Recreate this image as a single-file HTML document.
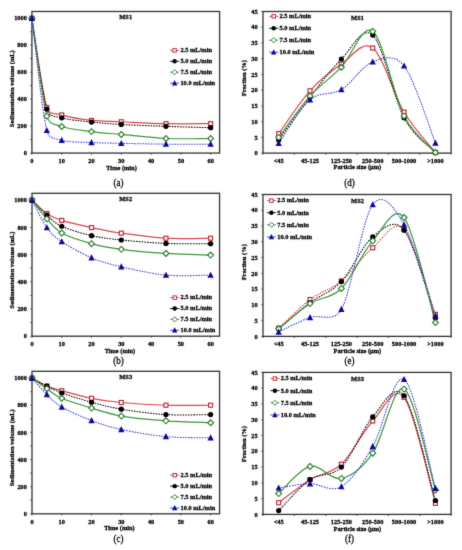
<!DOCTYPE html>
<html><head><meta charset="utf-8"><style>
html,body{margin:0;padding:0;background:#fff;}
body{width:462px;height:550px;overflow:hidden;font-family:"Liberation Serif",serif;}
svg{display:block;}
text{stroke:#000;stroke-width:0.25px;}
</style></head><body>
<svg width="462" height="550" viewBox="0 0 462 550"><defs><filter id="bl" x="0" y="0" width="100%" height="100%" color-interpolation-filters="sRGB"><feConvolveMatrix order="3" kernelMatrix="0.01134 0.08382 0.01134 0.08382 0.61935 0.08382 0.01134 0.08382 0.01134" edgeMode="duplicate"/></filter></defs><g filter="url(#bl)"><rect width="462" height="550" fill="#fff"/><line x1="30.30" y1="153.05" x2="31.90" y2="153.05" stroke="#3a3a3a" stroke-width="0.9"/>
<text transform="translate(26.90 155.25) scale(1 1.070)" font-family="Liberation Serif" font-weight="bold" font-size="6.40" text-anchor="end">0</text>
<line x1="30.30" y1="139.57" x2="31.90" y2="139.57" stroke="#3a3a3a" stroke-width="0.9"/>
<line x1="30.30" y1="126.09" x2="31.90" y2="126.09" stroke="#3a3a3a" stroke-width="0.9"/>
<text transform="translate(26.90 128.29) scale(1 1.070)" font-family="Liberation Serif" font-weight="bold" font-size="6.40" text-anchor="end">200</text>
<line x1="30.30" y1="112.61" x2="31.90" y2="112.61" stroke="#3a3a3a" stroke-width="0.9"/>
<line x1="30.30" y1="99.13" x2="31.90" y2="99.13" stroke="#3a3a3a" stroke-width="0.9"/>
<text transform="translate(26.90 101.33) scale(1 1.070)" font-family="Liberation Serif" font-weight="bold" font-size="6.40" text-anchor="end">400</text>
<line x1="30.30" y1="85.65" x2="31.90" y2="85.65" stroke="#3a3a3a" stroke-width="0.9"/>
<line x1="30.30" y1="72.16" x2="31.90" y2="72.16" stroke="#3a3a3a" stroke-width="0.9"/>
<text transform="translate(26.90 74.36) scale(1 1.070)" font-family="Liberation Serif" font-weight="bold" font-size="6.40" text-anchor="end">600</text>
<line x1="30.30" y1="58.68" x2="31.90" y2="58.68" stroke="#3a3a3a" stroke-width="0.9"/>
<line x1="30.30" y1="45.20" x2="31.90" y2="45.20" stroke="#3a3a3a" stroke-width="0.9"/>
<text transform="translate(26.90 47.40) scale(1 1.070)" font-family="Liberation Serif" font-weight="bold" font-size="6.40" text-anchor="end">800</text>
<line x1="30.30" y1="31.72" x2="31.90" y2="31.72" stroke="#3a3a3a" stroke-width="0.9"/>
<line x1="30.30" y1="18.24" x2="31.90" y2="18.24" stroke="#3a3a3a" stroke-width="0.9"/>
<text transform="translate(26.90 20.44) scale(1 1.070)" font-family="Liberation Serif" font-weight="bold" font-size="6.40" text-anchor="end">1000</text>
<line x1="31.90" y1="153.05" x2="31.90" y2="154.65" stroke="#3a3a3a" stroke-width="0.9"/>
<text transform="translate(31.90 163.05) scale(1 1.070)" font-family="Liberation Serif" font-weight="bold" font-size="6.40" text-anchor="middle">0</text>
<line x1="61.69" y1="153.05" x2="61.69" y2="154.65" stroke="#3a3a3a" stroke-width="0.9"/>
<text transform="translate(61.69 163.05) scale(1 1.070)" font-family="Liberation Serif" font-weight="bold" font-size="6.40" text-anchor="middle">10</text>
<line x1="91.49" y1="153.05" x2="91.49" y2="154.65" stroke="#3a3a3a" stroke-width="0.9"/>
<text transform="translate(91.49 163.05) scale(1 1.070)" font-family="Liberation Serif" font-weight="bold" font-size="6.40" text-anchor="middle">20</text>
<line x1="121.28" y1="153.05" x2="121.28" y2="154.65" stroke="#3a3a3a" stroke-width="0.9"/>
<text transform="translate(121.28 163.05) scale(1 1.070)" font-family="Liberation Serif" font-weight="bold" font-size="6.40" text-anchor="middle">30</text>
<line x1="151.07" y1="153.05" x2="151.07" y2="154.65" stroke="#3a3a3a" stroke-width="0.9"/>
<text transform="translate(151.07 163.05) scale(1 1.070)" font-family="Liberation Serif" font-weight="bold" font-size="6.40" text-anchor="middle">40</text>
<line x1="180.87" y1="153.05" x2="180.87" y2="154.65" stroke="#3a3a3a" stroke-width="0.9"/>
<text transform="translate(180.87 163.05) scale(1 1.070)" font-family="Liberation Serif" font-weight="bold" font-size="6.40" text-anchor="middle">50</text>
<line x1="210.66" y1="153.05" x2="210.66" y2="154.65" stroke="#3a3a3a" stroke-width="0.9"/>
<text transform="translate(210.66 163.05) scale(1 1.070)" font-family="Liberation Serif" font-weight="bold" font-size="6.40" text-anchor="middle">60</text>
<rect x="31.90" y="11.50" width="187.70" height="141.55" fill="none" stroke="#333" stroke-width="1.3"/>
<text transform="translate(121.50 169.60) scale(1 1.070)" font-family="Liberation Serif" font-weight="bold" font-size="6.40" text-anchor="middle">Time (min)</text>
<text x="13.80" y="88.70" font-family="Liberation Serif" font-weight="bold" font-size="6.45" text-anchor="middle" transform="rotate(-90 13.80 88.70)">Sedimentation volume (mL)</text>
<text transform="translate(125.70 19.10) scale(1 1.070)" font-family="Liberation Serif" font-weight="bold" font-size="6.40" text-anchor="middle">MS1</text>
<path d="M31.90 18.24 C34.38 33.11 41.83 91.37 46.80 107.48 C49.25 115.44 54.25 112.74 61.69 114.90 C69.14 117.06 81.56 119.28 91.49 120.43 C101.42 121.57 108.87 121.23 121.28 121.77 C133.69 122.31 151.07 123.35 165.97 123.66 C180.87 123.98 203.21 123.66 210.66 123.66" fill="none" stroke="#dc4650" stroke-width="1.2"/>
<path d="M31.90 18.24 C34.38 33.38 41.83 92.50 46.80 109.10 C49.27 117.38 54.25 115.71 61.69 117.86 C69.14 120.02 81.56 120.94 91.49 122.04 C101.42 123.14 108.87 123.75 121.28 124.47 C133.69 125.19 151.07 125.82 165.97 126.36 C180.87 126.90 203.21 127.48 210.66 127.71" fill="none" stroke="#000" stroke-width="1.05" stroke-dasharray="1.6 1.1"/>
<path d="M31.90 18.24 C34.38 34.55 41.83 98.07 46.80 116.11 C49.21 124.87 54.25 123.91 61.69 126.49 C69.14 129.08 81.56 130.29 91.49 131.62 C101.42 132.94 108.87 133.30 121.28 134.45 C133.69 135.59 151.07 137.82 165.97 138.49 C180.87 139.16 203.21 138.49 210.66 138.49" fill="none" stroke="#3a983a" stroke-width="1.2"/>
<path d="M31.90 18.24 C34.38 36.93 41.83 110.07 46.80 130.40 C48.91 139.07 54.25 138.22 61.69 140.24 C69.14 142.27 81.56 142.02 91.49 142.53 C101.42 143.05 108.87 143.07 121.28 143.34 C133.69 143.61 151.07 144.02 165.97 144.15 C180.87 144.29 203.21 144.15 210.66 144.15" fill="none" stroke="#3c3cd8" stroke-width="1.05" stroke-dasharray="1.6 1.1"/>
<rect x="29.90" y="16.24" width="4.00" height="4.00" fill="#fff" stroke="#b82838" stroke-width="1.15"/>
<rect x="44.80" y="105.48" width="4.00" height="4.00" fill="#fff" stroke="#b82838" stroke-width="1.15"/>
<rect x="59.69" y="112.90" width="4.00" height="4.00" fill="#fff" stroke="#b82838" stroke-width="1.15"/>
<rect x="89.49" y="118.43" width="4.00" height="4.00" fill="#fff" stroke="#b82838" stroke-width="1.15"/>
<rect x="119.28" y="119.77" width="4.00" height="4.00" fill="#fff" stroke="#b82838" stroke-width="1.15"/>
<rect x="163.97" y="121.66" width="4.00" height="4.00" fill="#fff" stroke="#b82838" stroke-width="1.15"/>
<rect x="208.66" y="121.66" width="4.00" height="4.00" fill="#fff" stroke="#b82838" stroke-width="1.15"/>
<circle cx="31.90" cy="18.24" r="2.60" fill="#000"/>
<circle cx="46.80" cy="109.10" r="2.60" fill="#000"/>
<circle cx="61.69" cy="117.86" r="2.60" fill="#000"/>
<circle cx="91.49" cy="122.04" r="2.60" fill="#000"/>
<circle cx="121.28" cy="124.47" r="2.60" fill="#000"/>
<circle cx="165.97" cy="126.36" r="2.60" fill="#000"/>
<circle cx="210.66" cy="127.71" r="2.60" fill="#000"/>
<path d="M31.90 15.29L34.85 18.24L31.90 21.19L28.95 18.24Z" fill="#fff" stroke="#277a27" stroke-width="1.10"/>
<path d="M46.80 113.16L49.75 116.11L46.80 119.06L43.85 116.11Z" fill="#fff" stroke="#277a27" stroke-width="1.10"/>
<path d="M61.69 123.54L64.64 126.49L61.69 129.44L58.74 126.49Z" fill="#fff" stroke="#277a27" stroke-width="1.10"/>
<path d="M91.49 128.67L94.44 131.62L91.49 134.57L88.54 131.62Z" fill="#fff" stroke="#277a27" stroke-width="1.10"/>
<path d="M121.28 131.50L124.23 134.45L121.28 137.40L118.33 134.45Z" fill="#fff" stroke="#277a27" stroke-width="1.10"/>
<path d="M165.97 135.54L168.92 138.49L165.97 141.44L163.02 138.49Z" fill="#fff" stroke="#277a27" stroke-width="1.10"/>
<path d="M210.66 135.54L213.61 138.49L210.66 141.44L207.71 138.49Z" fill="#fff" stroke="#277a27" stroke-width="1.10"/>
<path d="M31.90 14.78L35.05 20.92L28.75 20.92Z" fill="#0c0898"/>
<path d="M46.80 126.94L49.95 133.08L43.65 133.08Z" fill="#0c0898"/>
<path d="M61.69 136.78L64.84 142.92L58.54 142.92Z" fill="#0c0898"/>
<path d="M91.49 139.07L94.64 145.21L88.34 145.21Z" fill="#0c0898"/>
<path d="M121.28 139.88L124.43 146.02L118.13 146.02Z" fill="#0c0898"/>
<path d="M165.97 140.69L169.12 146.83L162.82 146.83Z" fill="#0c0898"/>
<path d="M210.66 140.69L213.81 146.83L207.51 146.83Z" fill="#0c0898"/>
<line x1="170.00" y1="50.40" x2="179.20" y2="50.40" stroke="#dc4650" stroke-width="0.9"/>
<rect x="172.88" y="48.68" width="3.44" height="3.44" fill="#fff" stroke="#b82838" stroke-width="0.98"/>
<text transform="translate(180.40 52.20) scale(1 1.070)" font-family="Liberation Serif" font-weight="bold" font-size="6.40" text-anchor="start">2.5 mL/min</text>
<line x1="170.00" y1="61.30" x2="179.20" y2="61.30" stroke="#000" stroke-width="0.9"/>
<circle cx="174.60" cy="61.30" r="2.24" fill="#000"/>
<text transform="translate(180.40 63.10) scale(1 1.070)" font-family="Liberation Serif" font-weight="bold" font-size="6.40" text-anchor="start">5.0 mL/min</text>
<line x1="170.00" y1="72.20" x2="179.20" y2="72.20" stroke="#3a983a" stroke-width="0.9"/>
<path d="M174.60 69.66L177.14 72.20L174.60 74.74L172.06 72.20Z" fill="#fff" stroke="#277a27" stroke-width="0.94"/>
<text transform="translate(180.40 74.00) scale(1 1.070)" font-family="Liberation Serif" font-weight="bold" font-size="6.40" text-anchor="start">7.5 mL/min</text>
<line x1="170.00" y1="83.10" x2="179.20" y2="83.10" stroke="#3c3cd8" stroke-width="0.9"/>
<path d="M174.60 80.12L177.31 85.40L171.89 85.40Z" fill="#0c0898"/>
<text transform="translate(180.40 84.90) scale(1 1.070)" font-family="Liberation Serif" font-weight="bold" font-size="6.40" text-anchor="start">10.0 mL/min</text>
<text transform="translate(118.40 185.70) scale(1 1.070)" font-family="Liberation Serif" font-weight="normal" font-size="9.00" text-anchor="middle">(a)</text>
<line x1="30.40" y1="336.20" x2="32.00" y2="336.20" stroke="#3a3a3a" stroke-width="0.9"/>
<text transform="translate(27.00 338.40) scale(1 1.070)" font-family="Liberation Serif" font-weight="bold" font-size="6.40" text-anchor="end">0</text>
<line x1="30.40" y1="322.59" x2="32.00" y2="322.59" stroke="#3a3a3a" stroke-width="0.9"/>
<line x1="30.40" y1="308.98" x2="32.00" y2="308.98" stroke="#3a3a3a" stroke-width="0.9"/>
<text transform="translate(27.00 311.18) scale(1 1.070)" font-family="Liberation Serif" font-weight="bold" font-size="6.40" text-anchor="end">200</text>
<line x1="30.40" y1="295.37" x2="32.00" y2="295.37" stroke="#3a3a3a" stroke-width="0.9"/>
<line x1="30.40" y1="281.76" x2="32.00" y2="281.76" stroke="#3a3a3a" stroke-width="0.9"/>
<text transform="translate(27.00 283.96) scale(1 1.070)" font-family="Liberation Serif" font-weight="bold" font-size="6.40" text-anchor="end">400</text>
<line x1="30.40" y1="268.15" x2="32.00" y2="268.15" stroke="#3a3a3a" stroke-width="0.9"/>
<line x1="30.40" y1="254.54" x2="32.00" y2="254.54" stroke="#3a3a3a" stroke-width="0.9"/>
<text transform="translate(27.00 256.74) scale(1 1.070)" font-family="Liberation Serif" font-weight="bold" font-size="6.40" text-anchor="end">600</text>
<line x1="30.40" y1="240.93" x2="32.00" y2="240.93" stroke="#3a3a3a" stroke-width="0.9"/>
<line x1="30.40" y1="227.32" x2="32.00" y2="227.32" stroke="#3a3a3a" stroke-width="0.9"/>
<text transform="translate(27.00 229.52) scale(1 1.070)" font-family="Liberation Serif" font-weight="bold" font-size="6.40" text-anchor="end">800</text>
<line x1="30.40" y1="213.71" x2="32.00" y2="213.71" stroke="#3a3a3a" stroke-width="0.9"/>
<line x1="30.40" y1="200.10" x2="32.00" y2="200.10" stroke="#3a3a3a" stroke-width="0.9"/>
<text transform="translate(27.00 202.30) scale(1 1.070)" font-family="Liberation Serif" font-weight="bold" font-size="6.40" text-anchor="end">1000</text>
<line x1="32.00" y1="336.20" x2="32.00" y2="337.80" stroke="#3a3a3a" stroke-width="0.9"/>
<text transform="translate(32.00 346.20) scale(1 1.070)" font-family="Liberation Serif" font-weight="bold" font-size="6.40" text-anchor="middle">0</text>
<line x1="61.77" y1="336.20" x2="61.77" y2="337.80" stroke="#3a3a3a" stroke-width="0.9"/>
<text transform="translate(61.77 346.20) scale(1 1.070)" font-family="Liberation Serif" font-weight="bold" font-size="6.40" text-anchor="middle">10</text>
<line x1="91.54" y1="336.20" x2="91.54" y2="337.80" stroke="#3a3a3a" stroke-width="0.9"/>
<text transform="translate(91.54 346.20) scale(1 1.070)" font-family="Liberation Serif" font-weight="bold" font-size="6.40" text-anchor="middle">20</text>
<line x1="121.31" y1="336.20" x2="121.31" y2="337.80" stroke="#3a3a3a" stroke-width="0.9"/>
<text transform="translate(121.31 346.20) scale(1 1.070)" font-family="Liberation Serif" font-weight="bold" font-size="6.40" text-anchor="middle">30</text>
<line x1="151.08" y1="336.20" x2="151.08" y2="337.80" stroke="#3a3a3a" stroke-width="0.9"/>
<text transform="translate(151.08 346.20) scale(1 1.070)" font-family="Liberation Serif" font-weight="bold" font-size="6.40" text-anchor="middle">40</text>
<line x1="180.85" y1="336.20" x2="180.85" y2="337.80" stroke="#3a3a3a" stroke-width="0.9"/>
<text transform="translate(180.85 346.20) scale(1 1.070)" font-family="Liberation Serif" font-weight="bold" font-size="6.40" text-anchor="middle">50</text>
<line x1="210.62" y1="336.20" x2="210.62" y2="337.80" stroke="#3a3a3a" stroke-width="0.9"/>
<text transform="translate(210.62 346.20) scale(1 1.070)" font-family="Liberation Serif" font-weight="bold" font-size="6.40" text-anchor="middle">60</text>
<rect x="32.00" y="193.30" width="187.55" height="142.90" fill="none" stroke="#333" stroke-width="1.3"/>
<text transform="translate(119.90 352.60) scale(1 1.070)" font-family="Liberation Serif" font-weight="bold" font-size="6.40" text-anchor="middle">Time (min)</text>
<text x="13.80" y="270.00" font-family="Liberation Serif" font-weight="bold" font-size="6.45" text-anchor="middle" transform="rotate(-90 13.80 270.00)">Sedimentation volume (mL)</text>
<text transform="translate(125.70 201.20) scale(1 1.070)" font-family="Liberation Serif" font-weight="bold" font-size="6.40" text-anchor="middle">MS2</text>
<path d="M32.00 200.10 C34.48 202.35 41.92 210.20 46.88 213.58 C51.85 216.96 54.33 218.05 61.77 220.38 C69.21 222.72 81.62 225.46 91.54 227.60 C101.46 229.73 108.91 231.41 121.31 233.18 C133.71 234.95 151.08 237.37 165.96 238.21 C180.85 239.05 203.18 238.21 210.62 238.21" fill="none" stroke="#dc4650" stroke-width="1.2"/>
<path d="M32.00 200.10 C34.48 202.60 41.92 210.72 46.88 215.08 C51.85 219.43 54.33 222.81 61.77 226.24 C69.21 229.66 81.62 233.33 91.54 235.63 C101.46 237.92 108.91 238.69 121.31 239.98 C133.71 241.27 151.08 242.77 165.96 243.38 C180.85 244.00 203.18 243.61 210.62 243.66" fill="none" stroke="#000" stroke-width="1.05" stroke-dasharray="1.6 1.1"/>
<path d="M32.00 200.10 C34.48 203.23 41.92 213.40 46.88 218.89 C51.85 224.38 54.33 228.91 61.77 233.04 C69.21 237.17 81.62 240.93 91.54 243.66 C101.46 246.38 108.91 247.74 121.31 249.37 C133.71 251.00 151.08 252.50 165.96 253.45 C180.85 254.41 203.18 254.82 210.62 255.09" fill="none" stroke="#3a983a" stroke-width="1.2"/>
<path d="M32.00 200.10 C34.48 204.69 41.92 220.68 46.88 227.60 C51.85 234.51 54.33 236.58 61.77 241.61 C69.21 246.65 81.62 253.61 91.54 257.81 C101.46 262.01 108.91 263.91 121.31 266.79 C133.71 269.67 151.08 273.71 165.96 275.09 C180.85 276.48 203.18 275.09 210.62 275.09" fill="none" stroke="#3c3cd8" stroke-width="1.05" stroke-dasharray="1.6 1.1"/>
<rect x="30.00" y="198.10" width="4.00" height="4.00" fill="#fff" stroke="#b82838" stroke-width="1.15"/>
<rect x="44.88" y="211.58" width="4.00" height="4.00" fill="#fff" stroke="#b82838" stroke-width="1.15"/>
<rect x="59.77" y="218.38" width="4.00" height="4.00" fill="#fff" stroke="#b82838" stroke-width="1.15"/>
<rect x="89.54" y="225.60" width="4.00" height="4.00" fill="#fff" stroke="#b82838" stroke-width="1.15"/>
<rect x="119.31" y="231.18" width="4.00" height="4.00" fill="#fff" stroke="#b82838" stroke-width="1.15"/>
<rect x="163.96" y="236.21" width="4.00" height="4.00" fill="#fff" stroke="#b82838" stroke-width="1.15"/>
<rect x="208.62" y="236.21" width="4.00" height="4.00" fill="#fff" stroke="#b82838" stroke-width="1.15"/>
<circle cx="32.00" cy="200.10" r="2.60" fill="#000"/>
<circle cx="46.88" cy="215.08" r="2.60" fill="#000"/>
<circle cx="61.77" cy="226.24" r="2.60" fill="#000"/>
<circle cx="91.54" cy="235.63" r="2.60" fill="#000"/>
<circle cx="121.31" cy="239.98" r="2.60" fill="#000"/>
<circle cx="165.96" cy="243.38" r="2.60" fill="#000"/>
<circle cx="210.62" cy="243.66" r="2.60" fill="#000"/>
<path d="M32.00 197.15L34.95 200.10L32.00 203.05L29.05 200.10Z" fill="#fff" stroke="#277a27" stroke-width="1.10"/>
<path d="M46.88 215.94L49.83 218.89L46.88 221.84L43.93 218.89Z" fill="#fff" stroke="#277a27" stroke-width="1.10"/>
<path d="M61.77 230.09L64.72 233.04L61.77 235.99L58.82 233.04Z" fill="#fff" stroke="#277a27" stroke-width="1.10"/>
<path d="M91.54 240.71L94.49 243.66L91.54 246.61L88.59 243.66Z" fill="#fff" stroke="#277a27" stroke-width="1.10"/>
<path d="M121.31 246.42L124.26 249.37L121.31 252.32L118.36 249.37Z" fill="#fff" stroke="#277a27" stroke-width="1.10"/>
<path d="M165.96 250.50L168.91 253.45L165.96 256.40L163.01 253.45Z" fill="#fff" stroke="#277a27" stroke-width="1.10"/>
<path d="M210.62 252.14L213.57 255.09L210.62 258.04L207.67 255.09Z" fill="#fff" stroke="#277a27" stroke-width="1.10"/>
<path d="M32.00 196.64L35.15 202.78L28.85 202.78Z" fill="#0c0898"/>
<path d="M46.88 224.13L50.03 230.27L43.73 230.27Z" fill="#0c0898"/>
<path d="M61.77 238.15L64.92 244.29L58.62 244.29Z" fill="#0c0898"/>
<path d="M91.54 254.34L94.69 260.49L88.39 260.49Z" fill="#0c0898"/>
<path d="M121.31 263.33L124.46 269.47L118.16 269.47Z" fill="#0c0898"/>
<path d="M165.96 271.63L169.11 277.77L162.81 277.77Z" fill="#0c0898"/>
<path d="M210.62 271.63L213.77 277.77L207.47 277.77Z" fill="#0c0898"/>
<line x1="170.10" y1="297.60" x2="179.30" y2="297.60" stroke="#dc4650" stroke-width="0.9"/>
<rect x="172.98" y="295.88" width="3.44" height="3.44" fill="#fff" stroke="#b82838" stroke-width="0.98"/>
<text transform="translate(180.50 299.40) scale(1 1.070)" font-family="Liberation Serif" font-weight="bold" font-size="6.40" text-anchor="start">2.5 mL/min</text>
<line x1="170.10" y1="308.47" x2="179.30" y2="308.47" stroke="#000" stroke-width="0.9"/>
<circle cx="174.70" cy="308.47" r="2.24" fill="#000"/>
<text transform="translate(180.50 310.27) scale(1 1.070)" font-family="Liberation Serif" font-weight="bold" font-size="6.40" text-anchor="start">5.0 mL/min</text>
<line x1="170.10" y1="319.34" x2="179.30" y2="319.34" stroke="#3a983a" stroke-width="0.9"/>
<path d="M174.70 316.80L177.24 319.34L174.70 321.88L172.16 319.34Z" fill="#fff" stroke="#277a27" stroke-width="0.94"/>
<text transform="translate(180.50 321.14) scale(1 1.070)" font-family="Liberation Serif" font-weight="bold" font-size="6.40" text-anchor="start">7.5 mL/min</text>
<line x1="170.10" y1="330.21" x2="179.30" y2="330.21" stroke="#3c3cd8" stroke-width="0.9"/>
<path d="M174.70 327.23L177.41 332.51L171.99 332.51Z" fill="#0c0898"/>
<text transform="translate(180.50 332.01) scale(1 1.070)" font-family="Liberation Serif" font-weight="bold" font-size="6.40" text-anchor="start">10.0 mL/min</text>
<text transform="translate(118.40 363.70) scale(1 1.070)" font-family="Liberation Serif" font-weight="normal" font-size="9.00" text-anchor="middle">(b)</text>
<line x1="30.40" y1="513.80" x2="32.00" y2="513.80" stroke="#3a3a3a" stroke-width="0.9"/>
<text transform="translate(27.00 516.00) scale(1 1.070)" font-family="Liberation Serif" font-weight="bold" font-size="6.40" text-anchor="end">0</text>
<line x1="30.40" y1="500.23" x2="32.00" y2="500.23" stroke="#3a3a3a" stroke-width="0.9"/>
<line x1="30.40" y1="486.66" x2="32.00" y2="486.66" stroke="#3a3a3a" stroke-width="0.9"/>
<text transform="translate(27.00 488.86) scale(1 1.070)" font-family="Liberation Serif" font-weight="bold" font-size="6.40" text-anchor="end">200</text>
<line x1="30.40" y1="473.09" x2="32.00" y2="473.09" stroke="#3a3a3a" stroke-width="0.9"/>
<line x1="30.40" y1="459.51" x2="32.00" y2="459.51" stroke="#3a3a3a" stroke-width="0.9"/>
<text transform="translate(27.00 461.71) scale(1 1.070)" font-family="Liberation Serif" font-weight="bold" font-size="6.40" text-anchor="end">400</text>
<line x1="30.40" y1="445.94" x2="32.00" y2="445.94" stroke="#3a3a3a" stroke-width="0.9"/>
<line x1="30.40" y1="432.37" x2="32.00" y2="432.37" stroke="#3a3a3a" stroke-width="0.9"/>
<text transform="translate(27.00 434.57) scale(1 1.070)" font-family="Liberation Serif" font-weight="bold" font-size="6.40" text-anchor="end">600</text>
<line x1="30.40" y1="418.80" x2="32.00" y2="418.80" stroke="#3a3a3a" stroke-width="0.9"/>
<line x1="30.40" y1="405.23" x2="32.00" y2="405.23" stroke="#3a3a3a" stroke-width="0.9"/>
<text transform="translate(27.00 407.43) scale(1 1.070)" font-family="Liberation Serif" font-weight="bold" font-size="6.40" text-anchor="end">800</text>
<line x1="30.40" y1="391.66" x2="32.00" y2="391.66" stroke="#3a3a3a" stroke-width="0.9"/>
<line x1="30.40" y1="378.09" x2="32.00" y2="378.09" stroke="#3a3a3a" stroke-width="0.9"/>
<text transform="translate(27.00 380.29) scale(1 1.070)" font-family="Liberation Serif" font-weight="bold" font-size="6.40" text-anchor="end">1000</text>
<line x1="32.00" y1="513.80" x2="32.00" y2="515.40" stroke="#3a3a3a" stroke-width="0.9"/>
<text transform="translate(32.00 523.80) scale(1 1.070)" font-family="Liberation Serif" font-weight="bold" font-size="6.40" text-anchor="middle">0</text>
<line x1="61.77" y1="513.80" x2="61.77" y2="515.40" stroke="#3a3a3a" stroke-width="0.9"/>
<text transform="translate(61.77 523.80) scale(1 1.070)" font-family="Liberation Serif" font-weight="bold" font-size="6.40" text-anchor="middle">10</text>
<line x1="91.54" y1="513.80" x2="91.54" y2="515.40" stroke="#3a3a3a" stroke-width="0.9"/>
<text transform="translate(91.54 523.80) scale(1 1.070)" font-family="Liberation Serif" font-weight="bold" font-size="6.40" text-anchor="middle">20</text>
<line x1="121.31" y1="513.80" x2="121.31" y2="515.40" stroke="#3a3a3a" stroke-width="0.9"/>
<text transform="translate(121.31 523.80) scale(1 1.070)" font-family="Liberation Serif" font-weight="bold" font-size="6.40" text-anchor="middle">30</text>
<line x1="151.08" y1="513.80" x2="151.08" y2="515.40" stroke="#3a3a3a" stroke-width="0.9"/>
<text transform="translate(151.08 523.80) scale(1 1.070)" font-family="Liberation Serif" font-weight="bold" font-size="6.40" text-anchor="middle">40</text>
<line x1="180.85" y1="513.80" x2="180.85" y2="515.40" stroke="#3a3a3a" stroke-width="0.9"/>
<text transform="translate(180.85 523.80) scale(1 1.070)" font-family="Liberation Serif" font-weight="bold" font-size="6.40" text-anchor="middle">50</text>
<line x1="210.62" y1="513.80" x2="210.62" y2="515.40" stroke="#3a3a3a" stroke-width="0.9"/>
<text transform="translate(210.62 523.80) scale(1 1.070)" font-family="Liberation Serif" font-weight="bold" font-size="6.40" text-anchor="middle">60</text>
<rect x="32.00" y="371.30" width="187.55" height="142.50" fill="none" stroke="#333" stroke-width="1.3"/>
<text transform="translate(119.40 529.60) scale(1 1.070)" font-family="Liberation Serif" font-weight="bold" font-size="6.40" text-anchor="middle">Time (min)</text>
<text x="13.80" y="447.80" font-family="Liberation Serif" font-weight="bold" font-size="6.45" text-anchor="middle" transform="rotate(-90 13.80 447.80)">Sedimentation volume (mL)</text>
<text transform="translate(125.70 378.90) scale(1 1.070)" font-family="Liberation Serif" font-weight="bold" font-size="6.40" text-anchor="middle">MS3</text>
<path d="M32.00 378.09 C34.48 379.42 41.92 383.99 46.88 386.09 C51.85 388.20 54.33 388.67 61.77 390.71 C69.21 392.74 81.62 396.34 91.54 398.31 C101.46 400.28 108.91 401.36 121.31 402.51 C133.71 403.67 151.08 404.78 165.96 405.23 C180.85 405.68 203.18 405.23 210.62 405.23" fill="none" stroke="#dc4650" stroke-width="1.2"/>
<path d="M32.00 378.09 C34.48 379.42 41.92 383.60 46.88 386.09 C51.85 388.58 54.33 390.32 61.77 393.01 C69.21 395.71 81.62 399.55 91.54 402.24 C101.46 404.93 108.91 407.11 121.31 409.16 C133.71 411.22 151.08 413.69 165.96 414.59 C180.85 415.50 203.18 414.59 210.62 414.59" fill="none" stroke="#000" stroke-width="1.05" stroke-dasharray="1.6 1.1"/>
<path d="M32.00 378.09 C34.48 379.85 41.92 385.30 46.88 388.67 C51.85 392.04 54.33 395.07 61.77 398.31 C69.21 401.54 81.62 405.12 91.54 408.08 C101.46 411.04 108.91 413.96 121.31 416.09 C133.71 418.21 151.08 419.73 165.96 420.84 C180.85 421.94 203.18 422.42 210.62 422.74" fill="none" stroke="#3a983a" stroke-width="1.2"/>
<path d="M32.00 378.09 C34.48 380.82 41.92 389.69 46.88 394.51 C51.85 399.32 54.33 402.65 61.77 406.99 C69.21 411.34 81.62 416.81 91.54 420.56 C101.46 424.32 108.91 426.85 121.31 429.52 C133.71 432.19 151.08 435.20 165.96 436.58 C180.85 437.96 203.18 437.60 210.62 437.80" fill="none" stroke="#3c3cd8" stroke-width="1.05" stroke-dasharray="1.6 1.1"/>
<rect x="30.00" y="376.09" width="4.00" height="4.00" fill="#fff" stroke="#b82838" stroke-width="1.15"/>
<rect x="44.88" y="384.09" width="4.00" height="4.00" fill="#fff" stroke="#b82838" stroke-width="1.15"/>
<rect x="59.77" y="388.71" width="4.00" height="4.00" fill="#fff" stroke="#b82838" stroke-width="1.15"/>
<rect x="89.54" y="396.31" width="4.00" height="4.00" fill="#fff" stroke="#b82838" stroke-width="1.15"/>
<rect x="119.31" y="400.51" width="4.00" height="4.00" fill="#fff" stroke="#b82838" stroke-width="1.15"/>
<rect x="163.96" y="403.23" width="4.00" height="4.00" fill="#fff" stroke="#b82838" stroke-width="1.15"/>
<rect x="208.62" y="403.23" width="4.00" height="4.00" fill="#fff" stroke="#b82838" stroke-width="1.15"/>
<circle cx="32.00" cy="378.09" r="2.60" fill="#000"/>
<circle cx="46.88" cy="386.09" r="2.60" fill="#000"/>
<circle cx="61.77" cy="393.01" r="2.60" fill="#000"/>
<circle cx="91.54" cy="402.24" r="2.60" fill="#000"/>
<circle cx="121.31" cy="409.16" r="2.60" fill="#000"/>
<circle cx="165.96" cy="414.59" r="2.60" fill="#000"/>
<circle cx="210.62" cy="414.59" r="2.60" fill="#000"/>
<path d="M32.00 375.14L34.95 378.09L32.00 381.04L29.05 378.09Z" fill="#fff" stroke="#277a27" stroke-width="1.10"/>
<path d="M46.88 385.72L49.83 388.67L46.88 391.62L43.93 388.67Z" fill="#fff" stroke="#277a27" stroke-width="1.10"/>
<path d="M61.77 395.36L64.72 398.31L61.77 401.26L58.82 398.31Z" fill="#fff" stroke="#277a27" stroke-width="1.10"/>
<path d="M91.54 405.13L94.49 408.08L91.54 411.03L88.59 408.08Z" fill="#fff" stroke="#277a27" stroke-width="1.10"/>
<path d="M121.31 413.14L124.26 416.09L121.31 419.04L118.36 416.09Z" fill="#fff" stroke="#277a27" stroke-width="1.10"/>
<path d="M165.96 417.89L168.91 420.84L165.96 423.79L163.01 420.84Z" fill="#fff" stroke="#277a27" stroke-width="1.10"/>
<path d="M210.62 419.79L213.57 422.74L210.62 425.69L207.67 422.74Z" fill="#fff" stroke="#277a27" stroke-width="1.10"/>
<path d="M32.00 374.62L35.15 380.76L28.85 380.76Z" fill="#0c0898"/>
<path d="M46.88 391.04L50.03 397.18L43.73 397.18Z" fill="#0c0898"/>
<path d="M61.77 403.53L64.92 409.67L58.62 409.67Z" fill="#0c0898"/>
<path d="M91.54 417.10L94.69 423.24L88.39 423.24Z" fill="#0c0898"/>
<path d="M121.31 426.06L124.46 432.20L118.16 432.20Z" fill="#0c0898"/>
<path d="M165.96 433.11L169.11 439.26L162.81 439.26Z" fill="#0c0898"/>
<path d="M210.62 434.34L213.77 440.48L207.47 440.48Z" fill="#0c0898"/>
<line x1="170.10" y1="475.20" x2="179.30" y2="475.20" stroke="#dc4650" stroke-width="0.9"/>
<rect x="172.98" y="473.48" width="3.44" height="3.44" fill="#fff" stroke="#b82838" stroke-width="0.98"/>
<text transform="translate(180.50 477.00) scale(1 1.070)" font-family="Liberation Serif" font-weight="bold" font-size="6.40" text-anchor="start">2.5 mL/min</text>
<line x1="170.10" y1="486.13" x2="179.30" y2="486.13" stroke="#000" stroke-width="0.9"/>
<circle cx="174.70" cy="486.13" r="2.24" fill="#000"/>
<text transform="translate(180.50 487.93) scale(1 1.070)" font-family="Liberation Serif" font-weight="bold" font-size="6.40" text-anchor="start">5.0 mL/min</text>
<line x1="170.10" y1="497.06" x2="179.30" y2="497.06" stroke="#3a983a" stroke-width="0.9"/>
<path d="M174.70 494.52L177.24 497.06L174.70 499.60L172.16 497.06Z" fill="#fff" stroke="#277a27" stroke-width="0.94"/>
<text transform="translate(180.50 498.86) scale(1 1.070)" font-family="Liberation Serif" font-weight="bold" font-size="6.40" text-anchor="start">7.5 mL/min</text>
<line x1="170.10" y1="507.99" x2="179.30" y2="507.99" stroke="#3c3cd8" stroke-width="0.9"/>
<path d="M174.70 505.01L177.41 510.29L171.99 510.29Z" fill="#0c0898"/>
<text transform="translate(180.50 509.79) scale(1 1.070)" font-family="Liberation Serif" font-weight="bold" font-size="6.40" text-anchor="start">10.0 mL/min</text>
<text transform="translate(118.40 541.80) scale(1 1.070)" font-family="Liberation Serif" font-weight="normal" font-size="9.00" text-anchor="middle">(c)</text>
<line x1="261.40" y1="153.10" x2="263.00" y2="153.10" stroke="#3a3a3a" stroke-width="0.9"/>
<text transform="translate(257.60 155.30) scale(1 1.070)" font-family="Liberation Serif" font-weight="bold" font-size="6.40" text-anchor="end">0</text>
<line x1="261.40" y1="137.37" x2="263.00" y2="137.37" stroke="#3a3a3a" stroke-width="0.9"/>
<text transform="translate(257.60 139.57) scale(1 1.070)" font-family="Liberation Serif" font-weight="bold" font-size="6.40" text-anchor="end">5</text>
<line x1="261.40" y1="121.63" x2="263.00" y2="121.63" stroke="#3a3a3a" stroke-width="0.9"/>
<text transform="translate(257.60 123.83) scale(1 1.070)" font-family="Liberation Serif" font-weight="bold" font-size="6.40" text-anchor="end">10</text>
<line x1="261.40" y1="105.90" x2="263.00" y2="105.90" stroke="#3a3a3a" stroke-width="0.9"/>
<text transform="translate(257.60 108.10) scale(1 1.070)" font-family="Liberation Serif" font-weight="bold" font-size="6.40" text-anchor="end">15</text>
<line x1="261.40" y1="90.17" x2="263.00" y2="90.17" stroke="#3a3a3a" stroke-width="0.9"/>
<text transform="translate(257.60 92.37) scale(1 1.070)" font-family="Liberation Serif" font-weight="bold" font-size="6.40" text-anchor="end">20</text>
<line x1="261.40" y1="74.43" x2="263.00" y2="74.43" stroke="#3a3a3a" stroke-width="0.9"/>
<text transform="translate(257.60 76.63) scale(1 1.070)" font-family="Liberation Serif" font-weight="bold" font-size="6.40" text-anchor="end">25</text>
<line x1="261.40" y1="58.70" x2="263.00" y2="58.70" stroke="#3a3a3a" stroke-width="0.9"/>
<text transform="translate(257.60 60.90) scale(1 1.070)" font-family="Liberation Serif" font-weight="bold" font-size="6.40" text-anchor="end">30</text>
<line x1="261.40" y1="42.97" x2="263.00" y2="42.97" stroke="#3a3a3a" stroke-width="0.9"/>
<text transform="translate(257.60 45.17) scale(1 1.070)" font-family="Liberation Serif" font-weight="bold" font-size="6.40" text-anchor="end">35</text>
<line x1="261.40" y1="27.23" x2="263.00" y2="27.23" stroke="#3a3a3a" stroke-width="0.9"/>
<text transform="translate(257.60 29.43) scale(1 1.070)" font-family="Liberation Serif" font-weight="bold" font-size="6.40" text-anchor="end">40</text>
<line x1="261.40" y1="11.50" x2="263.00" y2="11.50" stroke="#3a3a3a" stroke-width="0.9"/>
<text transform="translate(257.60 13.70) scale(1 1.070)" font-family="Liberation Serif" font-weight="bold" font-size="6.40" text-anchor="end">45</text>
<line x1="263.00" y1="153.10" x2="263.00" y2="154.70" stroke="#3a3a3a" stroke-width="0.9"/>
<line x1="294.35" y1="153.10" x2="294.35" y2="154.70" stroke="#3a3a3a" stroke-width="0.9"/>
<line x1="325.70" y1="153.10" x2="325.70" y2="154.70" stroke="#3a3a3a" stroke-width="0.9"/>
<line x1="357.05" y1="153.10" x2="357.05" y2="154.70" stroke="#3a3a3a" stroke-width="0.9"/>
<line x1="388.40" y1="153.10" x2="388.40" y2="154.70" stroke="#3a3a3a" stroke-width="0.9"/>
<line x1="419.75" y1="153.10" x2="419.75" y2="154.70" stroke="#3a3a3a" stroke-width="0.9"/>
<line x1="451.10" y1="153.10" x2="451.10" y2="154.70" stroke="#3a3a3a" stroke-width="0.9"/>
<text transform="translate(278.68 162.60) scale(1 1.070)" font-family="Liberation Serif" font-weight="bold" font-size="6.40" text-anchor="middle">&lt;45</text>
<text transform="translate(310.02 162.60) scale(1 1.070)" font-family="Liberation Serif" font-weight="bold" font-size="6.40" text-anchor="middle">45-125</text>
<text transform="translate(341.38 162.60) scale(1 1.070)" font-family="Liberation Serif" font-weight="bold" font-size="6.40" text-anchor="middle">125-250</text>
<text transform="translate(372.73 162.60) scale(1 1.070)" font-family="Liberation Serif" font-weight="bold" font-size="6.40" text-anchor="middle">250-500</text>
<text transform="translate(404.08 162.60) scale(1 1.070)" font-family="Liberation Serif" font-weight="bold" font-size="6.40" text-anchor="middle">500-1000</text>
<text transform="translate(435.43 162.60) scale(1 1.070)" font-family="Liberation Serif" font-weight="bold" font-size="6.40" text-anchor="middle">&gt;1000</text>
<rect x="263.00" y="11.50" width="188.10" height="141.60" fill="none" stroke="#333" stroke-width="1.3"/>
<text transform="translate(357.30 169.30) scale(1 1.070)" font-family="Liberation Serif" font-weight="bold" font-size="6.40" text-anchor="middle">Particle size (μm)</text>
<text x="246.20" y="78.10" font-family="Liberation Serif" font-weight="bold" font-size="6.50" text-anchor="middle" transform="rotate(-90 246.20 78.10)">Fraction (%)</text>
<text transform="translate(357.50 20.30) scale(1 1.070)" font-family="Liberation Serif" font-weight="bold" font-size="6.40" text-anchor="middle">MS1</text>
<path d="M278.68 133.59 C283.90 126.46 299.57 102.39 310.02 90.80 C320.47 79.21 330.93 71.18 341.38 64.05 C351.82 56.92 362.28 39.98 372.73 48.00 C383.18 56.03 393.63 94.78 404.08 112.19 C414.53 129.60 430.20 145.76 435.43 152.47" fill="none" stroke="#dc4650" stroke-width="1.2"/>
<path d="M278.68 139.88 C283.90 132.75 299.57 110.57 310.02 97.09 C320.47 83.61 330.93 69.35 341.38 59.01 C351.82 48.68 362.28 25.29 372.73 35.10 C383.18 44.91 393.63 98.30 404.08 117.86 C414.53 137.42 430.20 146.70 435.43 152.47" fill="none" stroke="#000" stroke-width="1.05" stroke-dasharray="1.6 1.1"/>
<path d="M278.68 137.37 C283.90 130.50 299.57 107.84 310.02 96.15 C320.47 84.45 330.93 78.00 341.38 67.20 C351.82 56.39 362.28 23.20 372.73 31.32 C383.18 39.45 393.63 95.78 404.08 115.97 C414.53 136.16 430.20 146.39 435.43 152.47" fill="none" stroke="#3a983a" stroke-width="1.2"/>
<path d="M278.68 143.35 C283.90 136.11 299.57 108.89 310.02 99.92 C320.47 90.95 330.93 95.88 341.38 89.54 C351.82 83.19 362.28 65.78 372.73 61.85 C383.18 57.91 394.41 53.43 404.08 65.94 C414.53 79.47 430.20 130.18 435.43 143.03" fill="none" stroke="#3c3cd8" stroke-width="1.05" stroke-dasharray="1.6 1.1"/>
<rect x="276.68" y="131.59" width="4.00" height="4.00" fill="#fff" stroke="#b82838" stroke-width="1.15"/>
<rect x="308.02" y="88.80" width="4.00" height="4.00" fill="#fff" stroke="#b82838" stroke-width="1.15"/>
<rect x="339.38" y="62.05" width="4.00" height="4.00" fill="#fff" stroke="#b82838" stroke-width="1.15"/>
<rect x="370.73" y="46.00" width="4.00" height="4.00" fill="#fff" stroke="#b82838" stroke-width="1.15"/>
<rect x="402.08" y="110.19" width="4.00" height="4.00" fill="#fff" stroke="#b82838" stroke-width="1.15"/>
<rect x="433.43" y="150.47" width="4.00" height="4.00" fill="#fff" stroke="#b82838" stroke-width="1.15"/>
<circle cx="278.68" cy="139.88" r="2.60" fill="#000"/>
<circle cx="310.02" cy="97.09" r="2.60" fill="#000"/>
<circle cx="341.38" cy="59.01" r="2.60" fill="#000"/>
<circle cx="372.73" cy="35.10" r="2.60" fill="#000"/>
<circle cx="404.08" cy="117.86" r="2.60" fill="#000"/>
<circle cx="435.43" cy="152.47" r="2.60" fill="#000"/>
<path d="M278.68 134.42L281.62 137.37L278.68 140.32L275.73 137.37Z" fill="#fff" stroke="#277a27" stroke-width="1.10"/>
<path d="M310.02 93.20L312.97 96.15L310.02 99.10L307.07 96.15Z" fill="#fff" stroke="#277a27" stroke-width="1.10"/>
<path d="M341.38 64.25L344.32 67.20L341.38 70.15L338.43 67.20Z" fill="#fff" stroke="#277a27" stroke-width="1.10"/>
<path d="M372.73 28.37L375.68 31.32L372.73 34.27L369.78 31.32Z" fill="#fff" stroke="#277a27" stroke-width="1.10"/>
<path d="M404.08 113.02L407.03 115.97L404.08 118.92L401.13 115.97Z" fill="#fff" stroke="#277a27" stroke-width="1.10"/>
<path d="M435.43 149.52L438.38 152.47L435.43 155.42L432.48 152.47Z" fill="#fff" stroke="#277a27" stroke-width="1.10"/>
<path d="M278.68 139.88L281.82 146.02L275.53 146.02Z" fill="#0c0898"/>
<path d="M310.02 96.46L313.17 102.60L306.88 102.60Z" fill="#0c0898"/>
<path d="M341.38 86.07L344.52 92.21L338.23 92.21Z" fill="#0c0898"/>
<path d="M372.73 58.38L375.88 64.52L369.58 64.52Z" fill="#0c0898"/>
<path d="M404.08 62.47L407.23 68.61L400.93 68.61Z" fill="#0c0898"/>
<path d="M435.43 139.57L438.58 145.71L432.28 145.71Z" fill="#0c0898"/>
<line x1="269.10" y1="16.30" x2="278.30" y2="16.30" stroke="#dc4650" stroke-width="0.9"/>
<rect x="271.98" y="14.58" width="3.44" height="3.44" fill="#fff" stroke="#b82838" stroke-width="0.98"/>
<text transform="translate(279.50 18.10) scale(1 1.070)" font-family="Liberation Serif" font-weight="bold" font-size="6.40" text-anchor="start">2.5 mL/min</text>
<line x1="269.10" y1="28.27" x2="278.30" y2="28.27" stroke="#000" stroke-width="0.9"/>
<circle cx="273.70" cy="28.27" r="2.24" fill="#000"/>
<text transform="translate(279.50 30.07) scale(1 1.070)" font-family="Liberation Serif" font-weight="bold" font-size="6.40" text-anchor="start">5.0 mL/min</text>
<line x1="269.10" y1="40.24" x2="278.30" y2="40.24" stroke="#3a983a" stroke-width="0.9"/>
<path d="M273.70 37.70L276.24 40.24L273.70 42.78L271.16 40.24Z" fill="#fff" stroke="#277a27" stroke-width="0.94"/>
<text transform="translate(279.50 42.04) scale(1 1.070)" font-family="Liberation Serif" font-weight="bold" font-size="6.40" text-anchor="start">7.5 mL/min</text>
<line x1="269.10" y1="52.21" x2="278.30" y2="52.21" stroke="#3c3cd8" stroke-width="0.9"/>
<path d="M273.70 49.23L276.41 54.51L270.99 54.51Z" fill="#0c0898"/>
<text transform="translate(279.50 54.01) scale(1 1.070)" font-family="Liberation Serif" font-weight="bold" font-size="6.40" text-anchor="start">10.0 mL/min</text>
<text transform="translate(349.50 186.30) scale(1 1.070)" font-family="Liberation Serif" font-weight="normal" font-size="9.00" text-anchor="middle">(d)</text>
<line x1="261.40" y1="336.40" x2="263.00" y2="336.40" stroke="#3a3a3a" stroke-width="0.9"/>
<text transform="translate(257.60 338.60) scale(1 1.070)" font-family="Liberation Serif" font-weight="bold" font-size="6.40" text-anchor="end">0</text>
<line x1="261.40" y1="320.63" x2="263.00" y2="320.63" stroke="#3a3a3a" stroke-width="0.9"/>
<text transform="translate(257.60 322.83) scale(1 1.070)" font-family="Liberation Serif" font-weight="bold" font-size="6.40" text-anchor="end">5</text>
<line x1="261.40" y1="304.87" x2="263.00" y2="304.87" stroke="#3a3a3a" stroke-width="0.9"/>
<text transform="translate(257.60 307.07) scale(1 1.070)" font-family="Liberation Serif" font-weight="bold" font-size="6.40" text-anchor="end">10</text>
<line x1="261.40" y1="289.10" x2="263.00" y2="289.10" stroke="#3a3a3a" stroke-width="0.9"/>
<text transform="translate(257.60 291.30) scale(1 1.070)" font-family="Liberation Serif" font-weight="bold" font-size="6.40" text-anchor="end">15</text>
<line x1="261.40" y1="273.33" x2="263.00" y2="273.33" stroke="#3a3a3a" stroke-width="0.9"/>
<text transform="translate(257.60 275.53) scale(1 1.070)" font-family="Liberation Serif" font-weight="bold" font-size="6.40" text-anchor="end">20</text>
<line x1="261.40" y1="257.57" x2="263.00" y2="257.57" stroke="#3a3a3a" stroke-width="0.9"/>
<text transform="translate(257.60 259.77) scale(1 1.070)" font-family="Liberation Serif" font-weight="bold" font-size="6.40" text-anchor="end">25</text>
<line x1="261.40" y1="241.80" x2="263.00" y2="241.80" stroke="#3a3a3a" stroke-width="0.9"/>
<text transform="translate(257.60 244.00) scale(1 1.070)" font-family="Liberation Serif" font-weight="bold" font-size="6.40" text-anchor="end">30</text>
<line x1="261.40" y1="226.03" x2="263.00" y2="226.03" stroke="#3a3a3a" stroke-width="0.9"/>
<text transform="translate(257.60 228.23) scale(1 1.070)" font-family="Liberation Serif" font-weight="bold" font-size="6.40" text-anchor="end">35</text>
<line x1="261.40" y1="210.27" x2="263.00" y2="210.27" stroke="#3a3a3a" stroke-width="0.9"/>
<text transform="translate(257.60 212.47) scale(1 1.070)" font-family="Liberation Serif" font-weight="bold" font-size="6.40" text-anchor="end">40</text>
<line x1="261.40" y1="194.50" x2="263.00" y2="194.50" stroke="#3a3a3a" stroke-width="0.9"/>
<text transform="translate(257.60 196.70) scale(1 1.070)" font-family="Liberation Serif" font-weight="bold" font-size="6.40" text-anchor="end">45</text>
<line x1="263.00" y1="336.40" x2="263.00" y2="338.00" stroke="#3a3a3a" stroke-width="0.9"/>
<line x1="294.35" y1="336.40" x2="294.35" y2="338.00" stroke="#3a3a3a" stroke-width="0.9"/>
<line x1="325.70" y1="336.40" x2="325.70" y2="338.00" stroke="#3a3a3a" stroke-width="0.9"/>
<line x1="357.05" y1="336.40" x2="357.05" y2="338.00" stroke="#3a3a3a" stroke-width="0.9"/>
<line x1="388.40" y1="336.40" x2="388.40" y2="338.00" stroke="#3a3a3a" stroke-width="0.9"/>
<line x1="419.75" y1="336.40" x2="419.75" y2="338.00" stroke="#3a3a3a" stroke-width="0.9"/>
<line x1="451.10" y1="336.40" x2="451.10" y2="338.00" stroke="#3a3a3a" stroke-width="0.9"/>
<text transform="translate(278.68 345.90) scale(1 1.070)" font-family="Liberation Serif" font-weight="bold" font-size="6.40" text-anchor="middle">&lt;45</text>
<text transform="translate(310.02 345.90) scale(1 1.070)" font-family="Liberation Serif" font-weight="bold" font-size="6.40" text-anchor="middle">45-125</text>
<text transform="translate(341.38 345.90) scale(1 1.070)" font-family="Liberation Serif" font-weight="bold" font-size="6.40" text-anchor="middle">125-250</text>
<text transform="translate(372.73 345.90) scale(1 1.070)" font-family="Liberation Serif" font-weight="bold" font-size="6.40" text-anchor="middle">250-500</text>
<text transform="translate(404.08 345.90) scale(1 1.070)" font-family="Liberation Serif" font-weight="bold" font-size="6.40" text-anchor="middle">500-1000</text>
<text transform="translate(435.43 345.90) scale(1 1.070)" font-family="Liberation Serif" font-weight="bold" font-size="6.40" text-anchor="middle">&gt;1000</text>
<rect x="263.00" y="194.50" width="188.10" height="141.90" fill="none" stroke="#333" stroke-width="1.3"/>
<text transform="translate(357.30 352.50) scale(1 1.070)" font-family="Liberation Serif" font-weight="bold" font-size="6.40" text-anchor="middle">Particle size (μm)</text>
<text x="246.20" y="262.20" font-family="Liberation Serif" font-weight="bold" font-size="6.50" text-anchor="middle" transform="rotate(-90 246.20 262.20)">Fraction (%)</text>
<text transform="translate(357.50 202.50) scale(1 1.070)" font-family="Liberation Serif" font-weight="bold" font-size="6.40" text-anchor="middle">MS2</text>
<path d="M278.68 328.20 C283.90 323.42 299.57 307.39 310.02 299.51 C320.47 291.62 330.93 289.52 341.38 280.90 C351.82 272.28 362.28 256.41 372.73 247.79 C383.18 239.17 393.63 218.10 404.08 229.19 C414.53 240.28 430.20 300.14 435.43 314.33" fill="none" stroke="#dc4650" stroke-width="1.05" stroke-dasharray="1.6 1.1"/>
<path d="M278.68 328.83 C283.90 324.47 299.57 310.54 310.02 302.66 C320.47 294.78 330.93 292.52 341.38 281.53 C351.82 270.55 362.28 245.32 372.73 236.75 C383.18 228.19 394.30 217.44 404.08 230.13 C414.53 243.69 430.20 303.45 435.43 318.11" fill="none" stroke="#000" stroke-width="1.05" stroke-dasharray="1.6 1.1"/>
<path d="M278.68 328.83 C283.90 324.63 299.57 310.33 310.02 303.61 C320.47 296.88 330.93 298.93 341.38 288.47 C351.82 278.01 362.28 252.68 372.73 240.85 C383.18 229.03 393.63 203.91 404.08 217.52 C414.53 231.13 430.20 305.02 435.43 322.53" fill="none" stroke="#3a983a" stroke-width="1.2"/>
<path d="M278.68 331.99 C283.90 329.57 299.57 321.26 310.02 317.48 C320.47 313.70 333.51 323.45 341.38 309.28 C351.82 290.47 362.28 218.68 372.73 204.59 C383.18 190.51 394.91 208.54 404.08 224.77 C414.53 243.27 430.20 300.45 435.43 315.59" fill="none" stroke="#3c3cd8" stroke-width="1.05" stroke-dasharray="1.6 1.1"/>
<rect x="276.68" y="326.20" width="4.00" height="4.00" fill="#fff" stroke="#b82838" stroke-width="1.15"/>
<rect x="308.02" y="297.51" width="4.00" height="4.00" fill="#fff" stroke="#b82838" stroke-width="1.15"/>
<rect x="339.38" y="278.90" width="4.00" height="4.00" fill="#fff" stroke="#b82838" stroke-width="1.15"/>
<rect x="370.73" y="245.79" width="4.00" height="4.00" fill="#fff" stroke="#b82838" stroke-width="1.15"/>
<rect x="402.08" y="227.19" width="4.00" height="4.00" fill="#fff" stroke="#b82838" stroke-width="1.15"/>
<rect x="433.43" y="312.33" width="4.00" height="4.00" fill="#fff" stroke="#b82838" stroke-width="1.15"/>
<circle cx="278.68" cy="328.83" r="2.60" fill="#000"/>
<circle cx="310.02" cy="302.66" r="2.60" fill="#000"/>
<circle cx="341.38" cy="281.53" r="2.60" fill="#000"/>
<circle cx="372.73" cy="236.75" r="2.60" fill="#000"/>
<circle cx="404.08" cy="230.13" r="2.60" fill="#000"/>
<circle cx="435.43" cy="318.11" r="2.60" fill="#000"/>
<path d="M278.68 325.88L281.62 328.83L278.68 331.78L275.73 328.83Z" fill="#fff" stroke="#277a27" stroke-width="1.10"/>
<path d="M310.02 300.66L312.97 303.61L310.02 306.56L307.07 303.61Z" fill="#fff" stroke="#277a27" stroke-width="1.10"/>
<path d="M341.38 285.52L344.32 288.47L341.38 291.42L338.43 288.47Z" fill="#fff" stroke="#277a27" stroke-width="1.10"/>
<path d="M372.73 237.90L375.68 240.85L372.73 243.80L369.78 240.85Z" fill="#fff" stroke="#277a27" stroke-width="1.10"/>
<path d="M404.08 214.57L407.03 217.52L404.08 220.47L401.13 217.52Z" fill="#fff" stroke="#277a27" stroke-width="1.10"/>
<path d="M435.43 319.58L438.38 322.53L435.43 325.48L432.48 322.53Z" fill="#fff" stroke="#277a27" stroke-width="1.10"/>
<path d="M278.68 328.52L281.82 334.66L275.53 334.66Z" fill="#0c0898"/>
<path d="M310.02 314.01L313.17 320.16L306.88 320.16Z" fill="#0c0898"/>
<path d="M341.38 305.82L344.52 311.96L338.23 311.96Z" fill="#0c0898"/>
<path d="M372.73 201.13L375.88 207.27L369.58 207.27Z" fill="#0c0898"/>
<path d="M404.08 221.31L407.23 227.45L400.93 227.45Z" fill="#0c0898"/>
<path d="M435.43 312.12L438.58 318.27L432.28 318.27Z" fill="#0c0898"/>
<line x1="266.80" y1="200.60" x2="276.00" y2="200.60" stroke="#dc4650" stroke-width="0.9"/>
<rect x="269.68" y="198.88" width="3.44" height="3.44" fill="#fff" stroke="#b82838" stroke-width="0.98"/>
<text transform="translate(277.20 202.40) scale(1 1.070)" font-family="Liberation Serif" font-weight="bold" font-size="6.40" text-anchor="start">2.5 mL/min</text>
<line x1="266.80" y1="212.70" x2="276.00" y2="212.70" stroke="#000" stroke-width="0.9"/>
<circle cx="271.40" cy="212.70" r="2.24" fill="#000"/>
<text transform="translate(277.20 214.50) scale(1 1.070)" font-family="Liberation Serif" font-weight="bold" font-size="6.40" text-anchor="start">5.0 mL/min</text>
<line x1="266.80" y1="224.80" x2="276.00" y2="224.80" stroke="#3a983a" stroke-width="0.9"/>
<path d="M271.40 222.26L273.94 224.80L271.40 227.34L268.86 224.80Z" fill="#fff" stroke="#277a27" stroke-width="0.94"/>
<text transform="translate(277.20 226.60) scale(1 1.070)" font-family="Liberation Serif" font-weight="bold" font-size="6.40" text-anchor="start">7.5 mL/min</text>
<line x1="266.80" y1="236.90" x2="276.00" y2="236.90" stroke="#3c3cd8" stroke-width="0.9"/>
<path d="M271.40 233.92L274.11 239.20L268.69 239.20Z" fill="#0c0898"/>
<text transform="translate(277.20 238.70) scale(1 1.070)" font-family="Liberation Serif" font-weight="bold" font-size="6.40" text-anchor="start">10.0 mL/min</text>
<text transform="translate(349.50 364.10) scale(1 1.070)" font-family="Liberation Serif" font-weight="normal" font-size="9.00" text-anchor="middle">(e)</text>
<line x1="261.40" y1="514.40" x2="263.00" y2="514.40" stroke="#3a3a3a" stroke-width="0.9"/>
<text transform="translate(257.60 516.60) scale(1 1.070)" font-family="Liberation Serif" font-weight="bold" font-size="6.40" text-anchor="end">0</text>
<line x1="261.40" y1="498.62" x2="263.00" y2="498.62" stroke="#3a3a3a" stroke-width="0.9"/>
<text transform="translate(257.60 500.82) scale(1 1.070)" font-family="Liberation Serif" font-weight="bold" font-size="6.40" text-anchor="end">5</text>
<line x1="261.40" y1="482.84" x2="263.00" y2="482.84" stroke="#3a3a3a" stroke-width="0.9"/>
<text transform="translate(257.60 485.04) scale(1 1.070)" font-family="Liberation Serif" font-weight="bold" font-size="6.40" text-anchor="end">10</text>
<line x1="261.40" y1="467.07" x2="263.00" y2="467.07" stroke="#3a3a3a" stroke-width="0.9"/>
<text transform="translate(257.60 469.27) scale(1 1.070)" font-family="Liberation Serif" font-weight="bold" font-size="6.40" text-anchor="end">15</text>
<line x1="261.40" y1="451.29" x2="263.00" y2="451.29" stroke="#3a3a3a" stroke-width="0.9"/>
<text transform="translate(257.60 453.49) scale(1 1.070)" font-family="Liberation Serif" font-weight="bold" font-size="6.40" text-anchor="end">20</text>
<line x1="261.40" y1="435.51" x2="263.00" y2="435.51" stroke="#3a3a3a" stroke-width="0.9"/>
<text transform="translate(257.60 437.71) scale(1 1.070)" font-family="Liberation Serif" font-weight="bold" font-size="6.40" text-anchor="end">25</text>
<line x1="261.40" y1="419.73" x2="263.00" y2="419.73" stroke="#3a3a3a" stroke-width="0.9"/>
<text transform="translate(257.60 421.93) scale(1 1.070)" font-family="Liberation Serif" font-weight="bold" font-size="6.40" text-anchor="end">30</text>
<line x1="261.40" y1="403.96" x2="263.00" y2="403.96" stroke="#3a3a3a" stroke-width="0.9"/>
<text transform="translate(257.60 406.16) scale(1 1.070)" font-family="Liberation Serif" font-weight="bold" font-size="6.40" text-anchor="end">35</text>
<line x1="261.40" y1="388.18" x2="263.00" y2="388.18" stroke="#3a3a3a" stroke-width="0.9"/>
<text transform="translate(257.60 390.38) scale(1 1.070)" font-family="Liberation Serif" font-weight="bold" font-size="6.40" text-anchor="end">40</text>
<line x1="261.40" y1="372.40" x2="263.00" y2="372.40" stroke="#3a3a3a" stroke-width="0.9"/>
<text transform="translate(257.60 374.60) scale(1 1.070)" font-family="Liberation Serif" font-weight="bold" font-size="6.40" text-anchor="end">45</text>
<line x1="263.00" y1="514.40" x2="263.00" y2="516.00" stroke="#3a3a3a" stroke-width="0.9"/>
<line x1="294.35" y1="514.40" x2="294.35" y2="516.00" stroke="#3a3a3a" stroke-width="0.9"/>
<line x1="325.70" y1="514.40" x2="325.70" y2="516.00" stroke="#3a3a3a" stroke-width="0.9"/>
<line x1="357.05" y1="514.40" x2="357.05" y2="516.00" stroke="#3a3a3a" stroke-width="0.9"/>
<line x1="388.40" y1="514.40" x2="388.40" y2="516.00" stroke="#3a3a3a" stroke-width="0.9"/>
<line x1="419.75" y1="514.40" x2="419.75" y2="516.00" stroke="#3a3a3a" stroke-width="0.9"/>
<line x1="451.10" y1="514.40" x2="451.10" y2="516.00" stroke="#3a3a3a" stroke-width="0.9"/>
<text transform="translate(278.68 523.90) scale(1 1.070)" font-family="Liberation Serif" font-weight="bold" font-size="6.40" text-anchor="middle">&lt;45</text>
<text transform="translate(310.02 523.90) scale(1 1.070)" font-family="Liberation Serif" font-weight="bold" font-size="6.40" text-anchor="middle">45-125</text>
<text transform="translate(341.38 523.90) scale(1 1.070)" font-family="Liberation Serif" font-weight="bold" font-size="6.40" text-anchor="middle">125-250</text>
<text transform="translate(372.73 523.90) scale(1 1.070)" font-family="Liberation Serif" font-weight="bold" font-size="6.40" text-anchor="middle">250-500</text>
<text transform="translate(404.08 523.90) scale(1 1.070)" font-family="Liberation Serif" font-weight="bold" font-size="6.40" text-anchor="middle">500-1000</text>
<text transform="translate(435.43 523.90) scale(1 1.070)" font-family="Liberation Serif" font-weight="bold" font-size="6.40" text-anchor="middle">&gt;1000</text>
<rect x="263.00" y="372.40" width="188.10" height="142.00" fill="none" stroke="#333" stroke-width="1.3"/>
<text transform="translate(357.30 530.50) scale(1 1.070)" font-family="Liberation Serif" font-weight="bold" font-size="6.40" text-anchor="middle">Particle size (μm)</text>
<text x="246.20" y="444.10" font-family="Liberation Serif" font-weight="bold" font-size="6.50" text-anchor="middle" transform="rotate(-90 246.20 444.10)">Fraction (%)</text>
<text transform="translate(357.50 380.50) scale(1 1.070)" font-family="Liberation Serif" font-weight="bold" font-size="6.40" text-anchor="middle">MS3</text>
<path d="M278.68 502.72 C283.90 498.89 299.57 486.11 310.02 479.69 C320.47 473.27 330.93 474.01 341.38 464.23 C351.82 454.44 362.28 432.15 372.73 421.00 C383.18 409.85 393.63 383.60 404.08 397.33 C414.53 411.06 430.20 485.68 435.43 503.36" fill="none" stroke="#dc4650" stroke-width="1.2"/>
<path d="M278.68 510.61 C283.90 505.46 299.57 486.95 310.02 479.69 C320.47 472.43 330.93 477.53 341.38 467.07 C351.82 456.60 362.28 428.78 372.73 416.89 C383.18 405.01 393.63 381.81 404.08 395.75 C414.53 409.69 430.20 483.05 435.43 500.52" fill="none" stroke="#000" stroke-width="1.05" stroke-dasharray="1.6 1.1"/>
<path d="M278.68 493.57 C283.90 489.05 299.57 468.96 310.02 466.44 C320.47 463.91 330.93 480.64 341.38 478.43 C351.82 476.22 362.28 468.07 372.73 453.18 C383.18 438.30 393.63 382.97 404.08 389.12 C414.53 395.28 430.20 473.27 435.43 490.10" fill="none" stroke="#3a983a" stroke-width="1.2"/>
<path d="M278.68 487.89 C283.90 487.21 299.57 484.00 310.02 483.79 C320.47 483.58 330.93 492.84 341.38 486.63 C351.82 480.43 362.28 464.44 372.73 446.56 C383.18 428.67 393.63 372.40 404.08 379.34 C414.53 386.28 430.20 470.06 435.43 488.21" fill="none" stroke="#3c3cd8" stroke-width="1.05" stroke-dasharray="1.6 1.1"/>
<rect x="276.68" y="500.72" width="4.00" height="4.00" fill="#fff" stroke="#b82838" stroke-width="1.15"/>
<rect x="308.02" y="477.69" width="4.00" height="4.00" fill="#fff" stroke="#b82838" stroke-width="1.15"/>
<rect x="339.38" y="462.23" width="4.00" height="4.00" fill="#fff" stroke="#b82838" stroke-width="1.15"/>
<rect x="370.73" y="419.00" width="4.00" height="4.00" fill="#fff" stroke="#b82838" stroke-width="1.15"/>
<rect x="402.08" y="395.33" width="4.00" height="4.00" fill="#fff" stroke="#b82838" stroke-width="1.15"/>
<rect x="433.43" y="501.36" width="4.00" height="4.00" fill="#fff" stroke="#b82838" stroke-width="1.15"/>
<circle cx="278.68" cy="510.61" r="2.60" fill="#000"/>
<circle cx="310.02" cy="479.69" r="2.60" fill="#000"/>
<circle cx="341.38" cy="467.07" r="2.60" fill="#000"/>
<circle cx="372.73" cy="416.89" r="2.60" fill="#000"/>
<circle cx="404.08" cy="395.75" r="2.60" fill="#000"/>
<circle cx="435.43" cy="500.52" r="2.60" fill="#000"/>
<path d="M278.68 490.62L281.62 493.57L278.68 496.52L275.73 493.57Z" fill="#fff" stroke="#277a27" stroke-width="1.10"/>
<path d="M310.02 463.49L312.97 466.44L310.02 469.39L307.07 466.44Z" fill="#fff" stroke="#277a27" stroke-width="1.10"/>
<path d="M341.38 475.48L344.32 478.43L341.38 481.38L338.43 478.43Z" fill="#fff" stroke="#277a27" stroke-width="1.10"/>
<path d="M372.73 450.23L375.68 453.18L372.73 456.13L369.78 453.18Z" fill="#fff" stroke="#277a27" stroke-width="1.10"/>
<path d="M404.08 386.17L407.03 389.12L404.08 392.07L401.13 389.12Z" fill="#fff" stroke="#277a27" stroke-width="1.10"/>
<path d="M435.43 487.15L438.38 490.10L435.43 493.05L432.48 490.10Z" fill="#fff" stroke="#277a27" stroke-width="1.10"/>
<path d="M278.68 484.43L281.82 490.57L275.53 490.57Z" fill="#0c0898"/>
<path d="M310.02 480.33L313.17 486.47L306.88 486.47Z" fill="#0c0898"/>
<path d="M341.38 483.17L344.52 489.31L338.23 489.31Z" fill="#0c0898"/>
<path d="M372.73 443.09L375.88 449.23L369.58 449.23Z" fill="#0c0898"/>
<path d="M404.08 375.88L407.23 382.02L400.93 382.02Z" fill="#0c0898"/>
<path d="M435.43 484.74L438.58 490.89L432.28 490.89Z" fill="#0c0898"/>
<line x1="270.30" y1="378.60" x2="279.50" y2="378.60" stroke="#dc4650" stroke-width="0.9"/>
<rect x="273.18" y="376.88" width="3.44" height="3.44" fill="#fff" stroke="#b82838" stroke-width="0.98"/>
<text transform="translate(280.70 380.40) scale(1 1.070)" font-family="Liberation Serif" font-weight="bold" font-size="6.40" text-anchor="start">2.5 mL/min</text>
<line x1="270.30" y1="390.70" x2="279.50" y2="390.70" stroke="#000" stroke-width="0.9"/>
<circle cx="274.90" cy="390.70" r="2.24" fill="#000"/>
<text transform="translate(280.70 392.50) scale(1 1.070)" font-family="Liberation Serif" font-weight="bold" font-size="6.40" text-anchor="start">5.0 mL/min</text>
<line x1="270.30" y1="402.80" x2="279.50" y2="402.80" stroke="#3a983a" stroke-width="0.9"/>
<path d="M274.90 400.26L277.44 402.80L274.90 405.34L272.36 402.80Z" fill="#fff" stroke="#277a27" stroke-width="0.94"/>
<text transform="translate(280.70 404.60) scale(1 1.070)" font-family="Liberation Serif" font-weight="bold" font-size="6.40" text-anchor="start">7.5 mL/min</text>
<line x1="270.30" y1="414.90" x2="279.50" y2="414.90" stroke="#3c3cd8" stroke-width="0.9"/>
<path d="M274.90 411.92L277.61 417.20L272.19 417.20Z" fill="#0c0898"/>
<text transform="translate(280.70 416.70) scale(1 1.070)" font-family="Liberation Serif" font-weight="bold" font-size="6.40" text-anchor="start">10.0 mL/min</text>
<text transform="translate(349.50 541.80) scale(1 1.070)" font-family="Liberation Serif" font-weight="normal" font-size="9.00" text-anchor="middle">(f)</text></g></svg>
</body></html>
